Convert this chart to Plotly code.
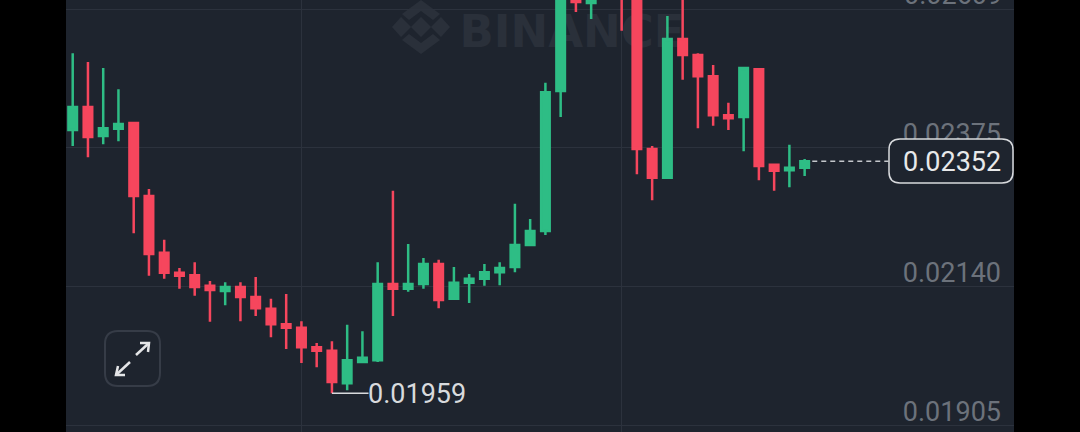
#!/usr/bin/env python3
# -*- coding: utf-8 -*-
"""
Dark candlestick chart (phone screenshot style)
"""

import plotly.graph_objs as go

# Candles, one per slot. Slot 35 is entirely above the visible range.
# Bodies and wicks that run off the top of the picture are estimates.
candle_index = list(range(49))
opens = [0.02405, 0.02444, 0.02395, 0.02407, 0.02417, 0.02293, 0.02197, 0.02163, 0.02159, 0.02141,
	0.02132, 0.02139, 0.02122, 0.02102, 0.02076, 0.02070, 0.02037, 0.02031, 0.01976, 0.02012,
	0.02015, 0.02144, 0.02136, 0.02144, 0.02178, 0.02119, 0.02146, 0.02153, 0.02164, 0.02173,
	0.02210, 0.02234, 0.02471, 0.02640, 0.02620, None, 0.02690, 0.02660, 0.02373, 0.02324,
	0.02559, 0.02532, 0.02496, 0.02430, 0.02427, 0.02508, 0.02346, 0.02337, 0.02341]
highs = [0.02535, 0.02520, 0.02510, 0.02474, 0.02417, 0.02305, 0.02219, 0.02171, 0.02181, 0.02149,
	0.02147, 0.02147, 0.02156, 0.02119, 0.02127, 0.02081, 0.02044, 0.02047, 0.02075, 0.02064,
	0.02181, 0.02302, 0.02212, 0.02188, 0.02185, 0.02173, 0.02161, 0.02178, 0.02181, 0.02280,
	0.02254, 0.02485, 0.02660, 0.02650, 0.02650, None, 0.02700, 0.02670, 0.02378, 0.02598,
	0.02640, 0.02535, 0.02515, 0.02451, 0.02510, 0.02510, 0.02347, 0.02380, 0.02356]
lows = [0.02378, 0.02359, 0.02381, 0.02386, 0.02230, 0.02158, 0.02153, 0.02136, 0.02124, 0.02080,
	0.02108, 0.02081, 0.02090, 0.02054, 0.02034, 0.02010, 0.02003, 0.01959, 0.01964, 0.02010,
	0.02012, 0.02090, 0.02131, 0.02136, 0.02103, 0.02118, 0.02112, 0.02141, 0.02142, 0.02164,
	0.02208, 0.02227, 0.02427, 0.02605, 0.02593, None, 0.02573, 0.02330, 0.02286, 0.02322,
	0.02490, 0.02408, 0.02412, 0.02405, 0.02369, 0.02320, 0.02302, 0.02308, 0.02327]
closes = [0.02444, 0.02393, 0.02408, 0.02415, 0.02293, 0.02195, 0.02163, 0.02158, 0.02139, 0.02134,
	0.02139, 0.02122, 0.02103, 0.02076, 0.02070, 0.02037, 0.02031, 0.01978, 0.02015, 0.02019,
	0.02144, 0.02136, 0.02144, 0.02178, 0.02117, 0.02146, 0.02153, 0.02164, 0.02171, 0.02210,
	0.02234, 0.02469, 0.02640, 0.02622, 0.02632, None, 0.02660, 0.02373, 0.02324, 0.02559,
	0.02532, 0.02496, 0.02430, 0.02425, 0.02510, 0.02344, 0.02336, 0.02341, 0.02352]

price_ticks = [0.01905, 0.02140, 0.02375, 0.02609]
price_labels = ['0.01905', '0.02140', '0.02375', '']
top_label = '0.02609'
time_grid = [15, 36]

last_price = 0.02352
low_price = 0.01959
low_index = 17

# Colours
RED = '#f6465d'
GREEN = '#2ebd85'
PANEL = '#1e242e'
GRID = '#2c323d'
WATERMARK = '#2a303a'
TICK_TEXT = '#6c727b'

# Picture and panel size in pixels
WIDTH = 1080
HEIGHT = 432
LEFT = 66
RIGHT = 1014


def px(x):
	return (x - LEFT) / (RIGHT - LEFT)


def py(y):
	return 1 - y / HEIGHT


def pathPaper(points, close=True):
	"""Straight-edged SVG path in paper coordinates from picture pixels."""
	path = 'M ' + ' L '.join('%.5f,%.5f' % (px(x), py(y)) for x, y in points)
	return path + (' Z' if close else '')


def roundedBox(x0, y0, x1, y1, r):
	"""Rounded rectangle as an SVG path in paper coordinates."""
	return ('M %.5f,%.5f L %.5f,%.5f Q %.5f,%.5f %.5f,%.5f L %.5f,%.5f Q %.5f,%.5f %.5f,%.5f '
		'L %.5f,%.5f Q %.5f,%.5f %.5f,%.5f L %.5f,%.5f Q %.5f,%.5f %.5f,%.5f Z' % (
		px(x0 + r), py(y0), px(x1 - r), py(y0), px(x1), py(y0), px(x1), py(y0 + r),
		px(x1), py(y1 - r), px(x1), py(y1), px(x1 - r), py(y1),
		px(x0 + r), py(y1), px(x0), py(y1), px(x0), py(y1 - r),
		px(x0), py(y0 + r), px(x0), py(y0), px(x0 + r), py(y0)))


data = [go.Candlestick(
	x = candle_index,
	open = opens,
	high = highs,
	low = lows,
	close = closes,
	whiskerwidth = 0,
	increasing = dict(line = dict(color = GREEN, width = 2.5), fillcolor = GREEN),
	decreasing = dict(line = dict(color = RED, width = 2.5), fillcolor = RED),
	showlegend = False,
	hoverinfo = 'skip'
	)]

shapes = []

# Watermark logo and name, under the candles
logo = [
	[(421, 17), (431, 27), (421, 37), (411, 27)],
	[(401, 17), (411, 27), (401, 37), (392, 27)],
	[(441, 17), (450, 27), (441, 37), (431, 27)],
	[(421, 0), (440, 14), (433, 20), (421, 11), (409, 20), (402, 14)],
	[(421, 54), (440, 40), (433, 34), (421, 43), (409, 34), (402, 40)],
]
for points in logo:
	shapes.append(dict(type = 'path', xref = 'paper', yref = 'paper', layer = 'below',
		path = pathPaper(points), fillcolor = WATERMARK, line = dict(width = 0)))
shapes.append(dict(type = 'rect', xref = 'paper', yref = 'paper', layer = 'below',
	x0 = px(460), x1 = px(684), y0 = py(49), y1 = py(7),
	line = dict(width = 0), fillcolor = 'rgba(0,0,0,0)',
	label = dict(text = '<b>BINANCE</b>', textposition = 'middle center',
		font = dict(family = 'DejaVu Sans', size = 45, color = WATERMARK))))

# Expand button
shapes.append(dict(type = 'path', xref = 'paper', yref = 'paper',
	path = roundedBox(105, 331, 160, 386, 13), line = dict(color = '#363c47', width = 2)))
arrows = [
	[(136, 355), (149, 343)],
	[(140, 343), (149, 343), (148, 352)],
	[(130, 362), (116, 375)],
	[(118, 366), (116, 375), (125, 375)],
]
for points in arrows:
	shapes.append(dict(type = 'path', xref = 'paper', yref = 'paper',
		path = pathPaper(points, close = False), line = dict(color = '#e4e5e7', width = 2.5)))

# Lowest price marker
shapes.append(dict(type = 'line', xref = 'x', yref = 'y',
	x0 = low_index, x1 = low_index + 2.4, y0 = low_price, y1 = low_price,
	line = dict(color = '#d8dadd', width = 1.5)))

# Last price line and box
shapes.append(dict(type = 'line', xref = 'x', yref = 'y',
	x0 = 48.5, x1 = 53.5, y0 = last_price, y1 = last_price,
	line = dict(color = '#c4c7cb', width = 1.5, dash = '5px,4px')))
shapes.append(dict(type = 'path', xref = 'paper', yref = 'paper',
	path = roundedBox(889, 139, 1013, 183, 11), fillcolor = PANEL,
	line = dict(color = '#d8dadd', width = 1.5)))

annotations = [
	dict(x = low_index + 2.4, y = low_price, xref = 'x', yref = 'y', text = '%.5f' % low_price,
		showarrow = False, xanchor = 'left', yanchor = 'middle', xshift = -3, yshift = -1,
		font = dict(family = 'Roboto', size = 27, color = '#d8dadd')),
	dict(x = px(1003), y = py(162), xref = 'paper', yref = 'paper', text = '%.5f' % last_price,
		showarrow = False, xanchor = 'right', yanchor = 'middle',
		font = dict(family = 'Roboto', size = 27, color = '#e8e9ea')),
	# Cut off by the top edge of the picture, as in the screenshot
	dict(x = px(1004), y = py(13), xref = 'paper', yref = 'paper', text = top_label,
		showarrow = False, xanchor = 'right', yanchor = 'bottom',
		font = dict(family = 'Roboto', size = 27, color = TICK_TEXT)),
]

layout = {
	'width' : WIDTH,
	'height' : HEIGHT,
	'margin' : dict(l = LEFT, r = WIDTH - RIGHT, t = 0, b = 0, pad = 0),
	'paper_bgcolor' : '#000000',
	'plot_bgcolor' : PANEL,
	'boxgap' : 0.2,
	'xaxis' : dict(
		range = [-0.44, 61.73],
		rangeslider = dict(visible = False),
		tickvals = time_grid,
		showticklabels = False,
		ticks = '',
		showgrid = True,
		gridcolor = GRID,
		gridwidth = 1,
		zeroline = False,
		),
	'yaxis' : dict(
		range = [0.018933, 0.0262525],
		side = 'right',
		ticklabelposition = 'inside',
		tickvals = price_ticks,
		ticktext = price_labels,
		ticklabelshift = -14,
		ticklabelstandoff = 10,
		tickfont = dict(family = 'Roboto', size = 27, color = TICK_TEXT),
		ticks = '',
		showgrid = True,
		gridcolor = GRID,
		gridwidth = 1,
		zeroline = False,
		),
	'shapes' : shapes,
	'annotations' : annotations,
	'hovermode' : False,
}

figure = go.Figure(data=data, layout=layout)
figure.write_html("out.html", config=dict(displayModeBar=False),
	post_script="document.body.style.margin='0';document.body.style.background='#000';document.body.style.overflow='hidden';")
